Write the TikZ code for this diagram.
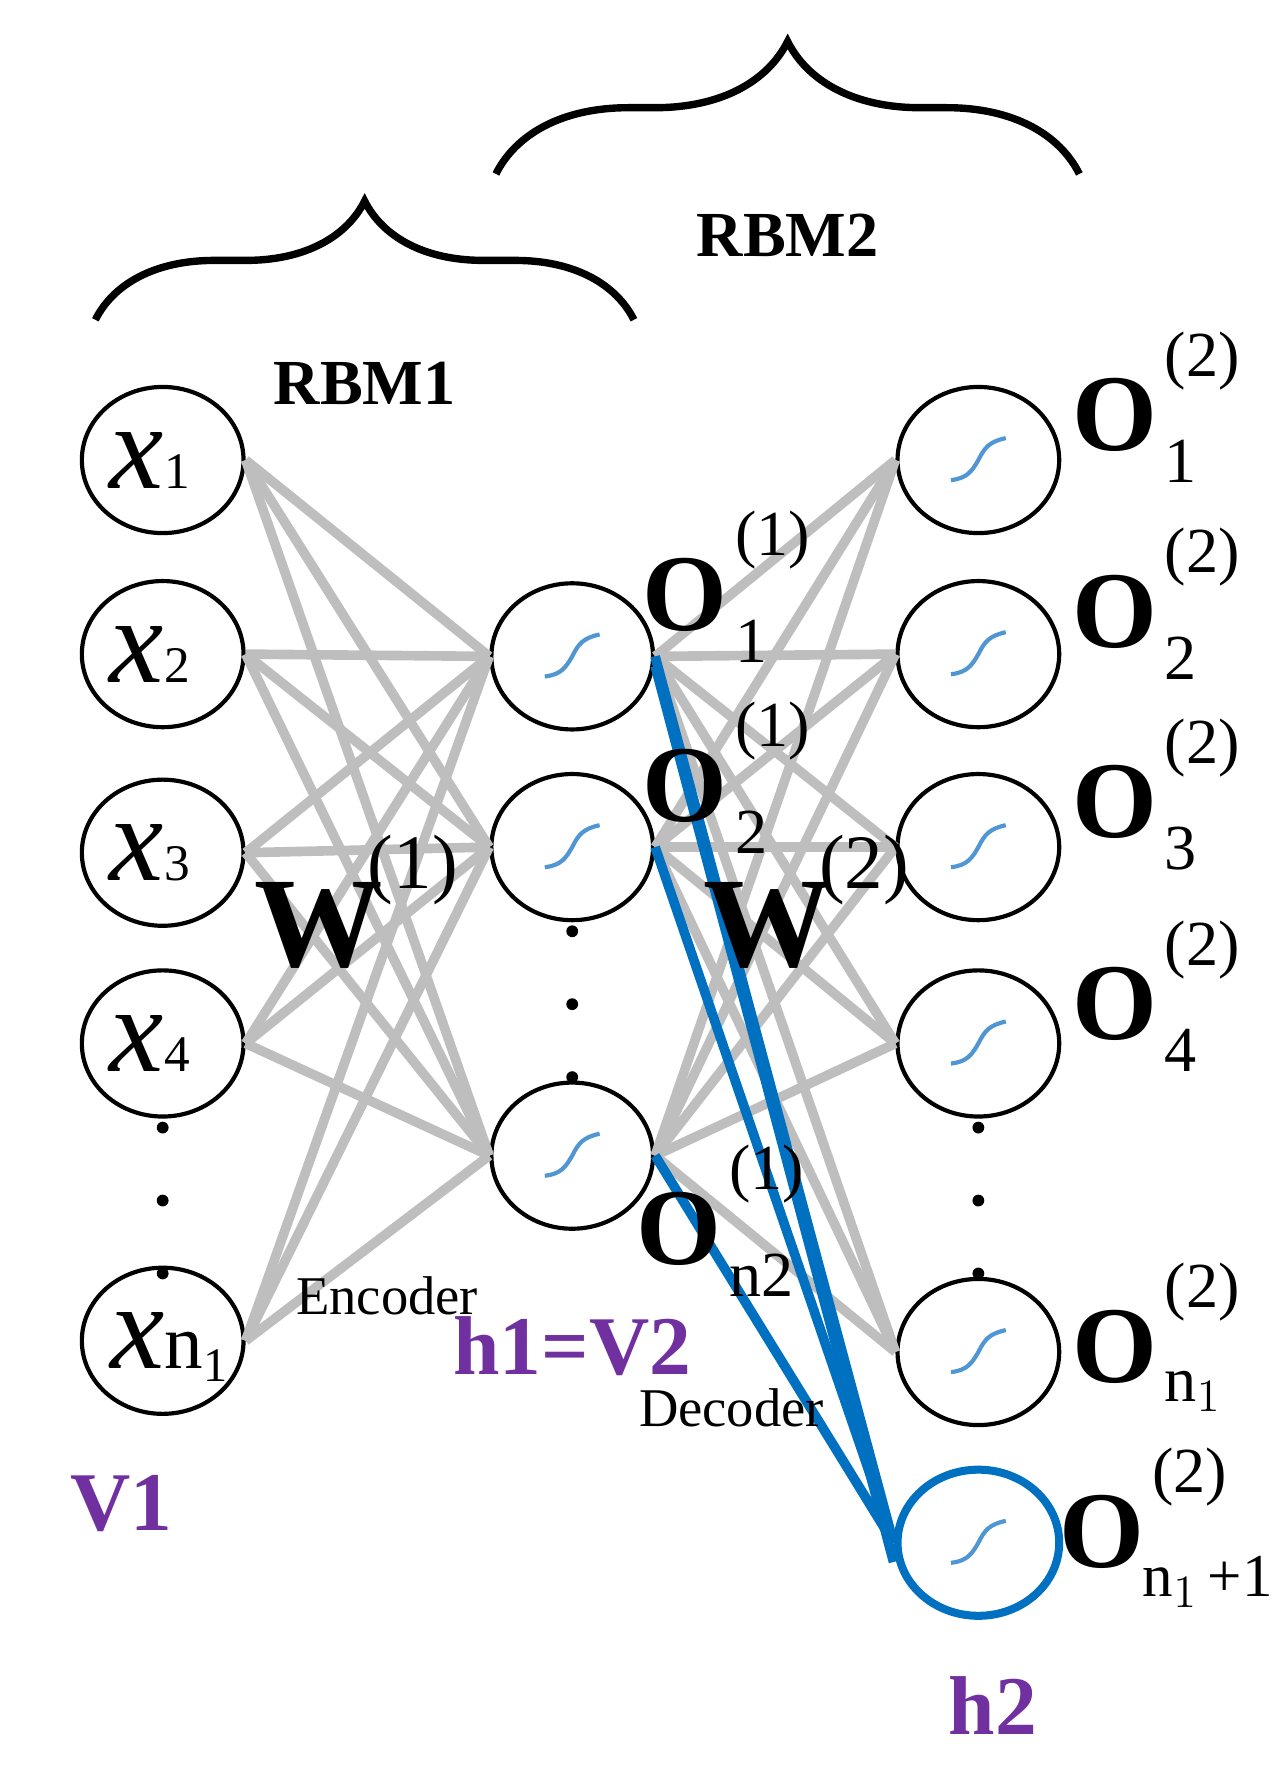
\documentclass[tikz,border=0pt]{standalone}
\usepackage{fontspec}
\setmainfont{Liberation Serif}
\usetikzlibrary{decorations.pathreplacing,shapes.geometric}
\definecolor{grayl}{RGB}{190,190,190}
\definecolor{bl}{RGB}{0,112,192}
\definecolor{sig}{RGB}{80,150,210}
\definecolor{pur}{RGB}{112,48,160}
\begin{document}
\begin{tikzpicture}[x=0.01228cm,y=-0.01228cm,
  neu/.style={draw,line width=1.3pt,shape=ellipse,minimum width=1.77cm,minimum height=1.6cm},
  gl/.style={grayl,line width=3pt},
  bll/.style={bl,line width=3pt},
  lab/.style={font=\fontsize{34}{34}\selectfont\bfseries,inner sep=0pt},
  sup/.style={font=\fontsize{20}{20}\selectfont,inner sep=0pt},
  xl/.style={font=\fontsize{38}{38}\selectfont\itshape,inner sep=0pt},
  dot/.style={circle,fill=black,inner sep=1.3pt},
  pt/.style={font=\fontsize{26}{26}\selectfont\bfseries,text=pur}]
\useasboundingbox (0,0) rectangle (1140,1574);
% nodes
\foreach \n/\y in {1/410,2/583,3/760,4/930,5/1195} \node[neu] (x\n) at (145,\y) {};
\foreach \n/\y in {1/585,2/755,3/1030} \node[neu] (m\n) at (510,\y) {};
\foreach \n/\y in {1/410,2/583,3/755,4/930,5/1205} \node[neu] (r\n) at (872,\y) {};
\node[neu,draw=bl,line width=2.5pt] (r6) at (872,1375) {};
% sigmoids
\foreach \c in {m1,m2,m3,r1,r2,r3,r4,r5,r6}
  \draw[sig,line width=1.3pt,shift={(\c.center)},x=1cm,y=1cm] (-0.3,-0.22) .. controls (-0.12,-0.2) and (-0.07,-0.12) .. (0,0) .. controls (0.07,0.14) and (0.12,0.2) .. (0.3,0.24);
% gray edges
\foreach \a in {1,...,5} \foreach \b in {1,2,3} \draw[gl] (x\a.east) -- (m\b.west);
\foreach \a in {1,2,3} \foreach \b in {1,...,5} \draw[gl] (m\a.east) -- (r\b.west);
\foreach \a in {1,2,3} \draw[bll] (m\a.east) -- (r6.west);
\draw[bll] ([yshift=-3pt]m1.east) -- ([yshift=-6pt]r6.west);
% labels in left
\foreach \n in {1,2,3,4} \node[xl] (xl\n) at ([xshift=-4pt]x\n.center) {x\fontsize{16}{16}\selectfont\upshape\n};
\node[xl] (xl5) at ([xshift=2pt,yshift=-2pt]x5.center) {x\fontsize{24}{24}\selectfont\upshape n\raisebox{-4pt}{\fontsize{15}{15}\selectfont 1}};
% dots
\foreach \y in {1005,1070,1135} {\node[dot] (dl\y) at (145,\y) {}; \node[dot] (dr\y) at (872,\y) {};}
\foreach \y in {830,895,960} \node[dot] (dm\y) at (510,\y) {};
% O labels middle
\node[lab,anchor=west] (o1) at (572,530) {O};
\node[sup,anchor=south west] (o1s) at ([xshift=2pt,yshift=-4pt]o1.north east) {(1)};
\node[sup,anchor=north west] (o1b) at ([xshift=2pt,yshift=4pt]o1.south east) {1};
\node[lab,anchor=west] (o2) at (572,700) {O};
\node[sup,anchor=south west] (o2s) at ([xshift=2pt,yshift=-4pt]o2.north east) {(1)};
\node[sup,anchor=north west] (o2b) at ([xshift=2pt,yshift=4pt]o2.south east) {2};
\node[lab,anchor=west] (o3) at (567,1095) {O};
\node[sup,anchor=south west] (o3s) at ([xshift=2pt,yshift=-4pt]o3.north east) {(1)};
\node[sup,anchor=north west] (o3b) at ([xshift=2pt,yshift=4pt]o3.south east) {n2};
% O labels right
\foreach \n/\y/\s in {1/370/1,2/545/2,3/715/3,4/895/4,5/1200/n$_1$} {
  \node[lab,anchor=west] (ro\n) at (955,\y) {O};
  \node[sup,anchor=south west] (rs\n) at ([xshift=2pt,yshift=-4pt]ro\n.north east) {(2)};
  \node[sup,anchor=north west] (rb\n) at ([xshift=2pt,yshift=4pt]ro\n.south east) {\s};
}
\node[lab,anchor=west] (ro6) at (944,1365) {O};
\node[sup,anchor=south west] (rs6) at ([xshift=2pt,yshift=-4pt]ro6.north east) {(2)};
\node[sup,anchor=north west,font=\fontsize{19}{19}\selectfont] (rb6) at ([xshift=-1pt,yshift=4pt]ro6.south east) {n$_1$\,+1};
% W labels
\node[font=\fontsize{40}{40}\selectfont\bfseries] (w1) at (284,825) {W};
\node[font=\fontsize{24}{24}\selectfont] (w1s) at (368,775) {(1)};
\node[font=\fontsize{40}{40}\selectfont\bfseries] (w2) at (684,825) {W};
\node[font=\fontsize{24}{24}\selectfont] (w2s) at (770,775) {(2)};
% texts
\node[font=\fontsize{20}{20}\selectfont\bfseries] (rbm1) at (325,342) {RBM1};
\node[font=\fontsize{20}{20}\selectfont\bfseries] (rbm2) at (702,210) {RBM2};
\node[font=\fontsize{17}{17}\selectfont] (enc) at (345,1155) {Encoder};
\node[font=\fontsize{17}{17}\selectfont] (dec) at (652,1255) {Decoder};
\node[pt] (h1) at (510,1200) {h1=V2};
\node[pt] (v1) at (108,1340) {V1};
\node[pt] (h2) at (885,1520) {h2};
% braces
\coordinate (b1a) at (85,285); \coordinate (b1b) at (565,285);
\coordinate (b2a) at (442,155); \coordinate (b2b) at (962,155);
\draw[line width=2.3pt,decorate,decoration={brace,amplitude=1.3cm,aspect=0.5}] (b1a) -- (b1b);
\draw[line width=2.3pt,decorate,decoration={brace,amplitude=1.45cm,aspect=0.5}] (b2a) -- (b2b);
\end{tikzpicture}
\end{document}
